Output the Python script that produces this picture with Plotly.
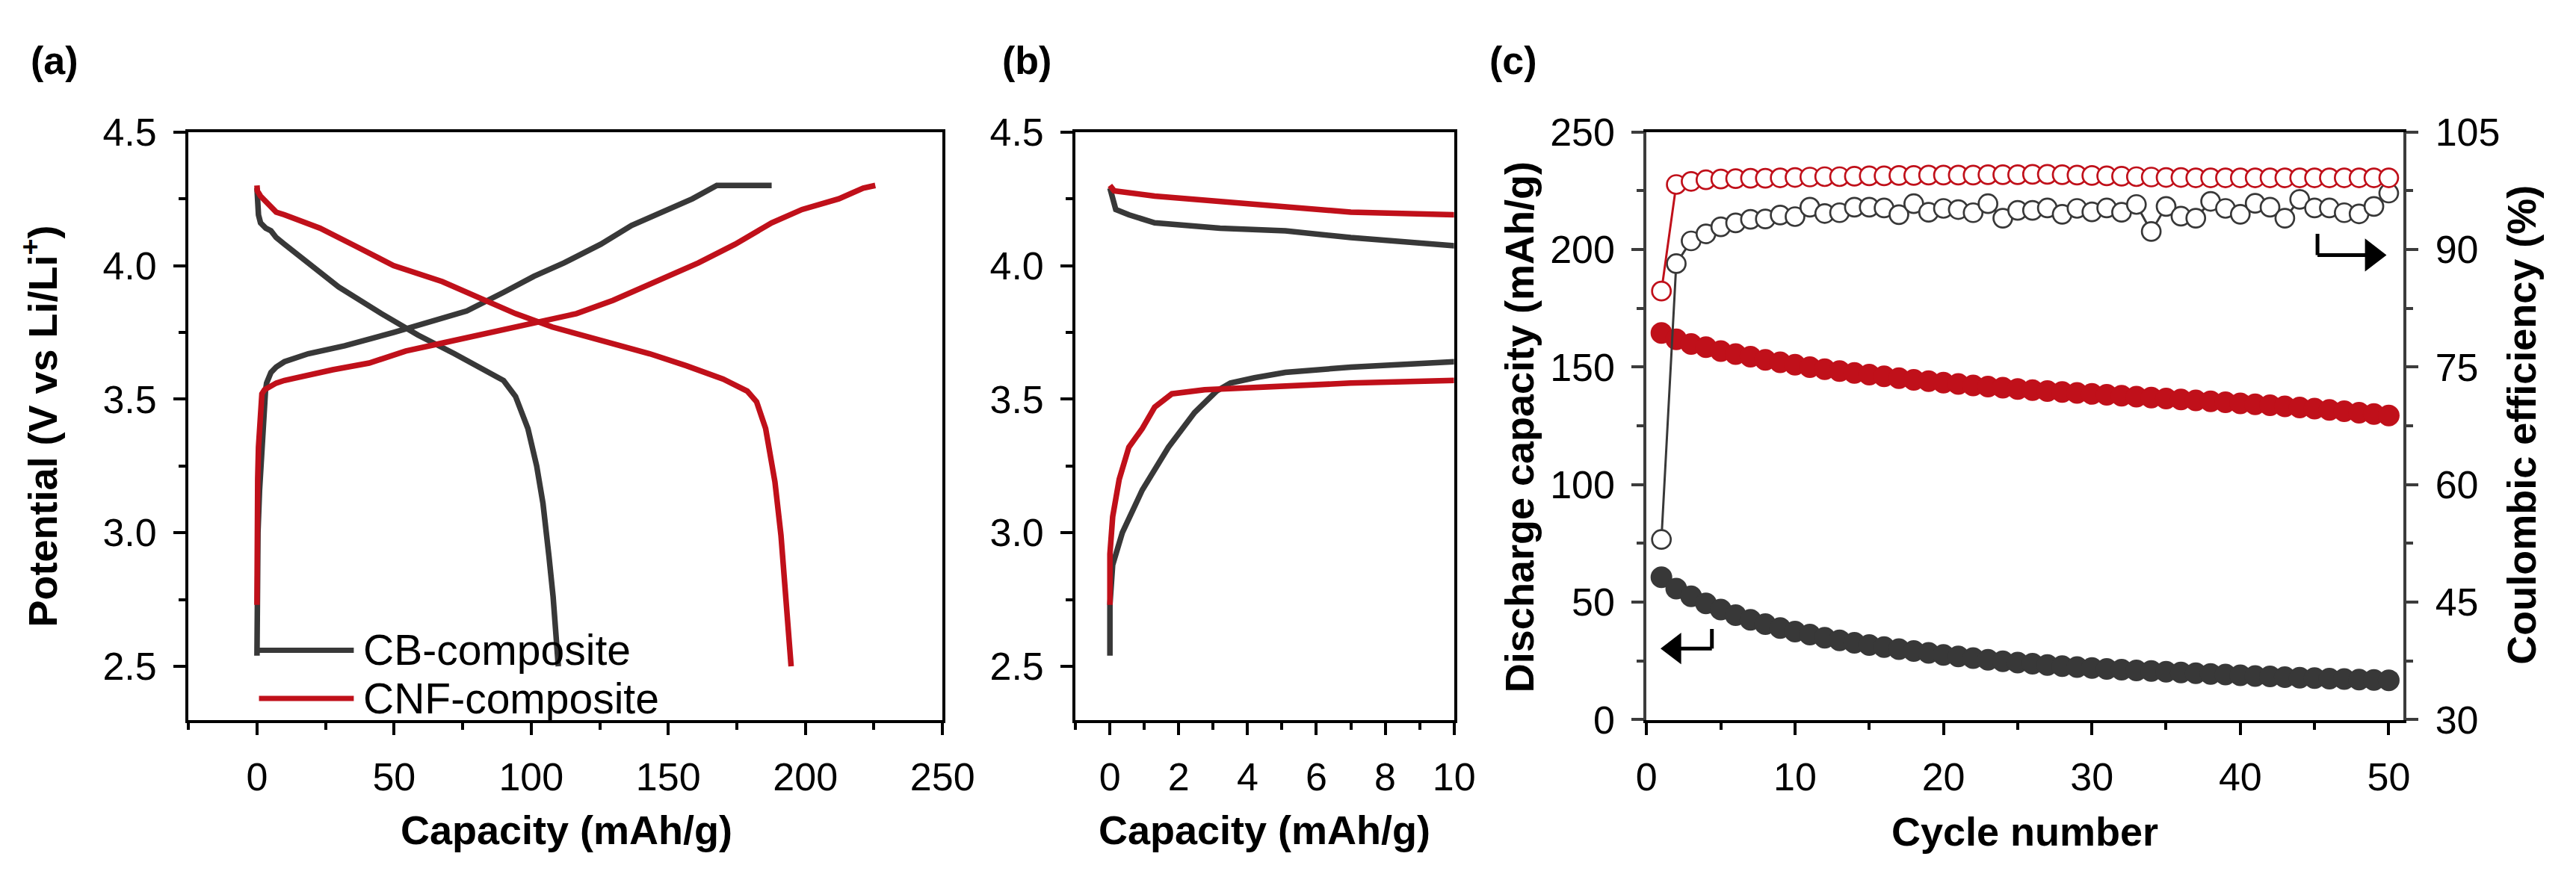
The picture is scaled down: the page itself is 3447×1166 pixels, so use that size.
import plotly.graph_objects as go

# ---------------- Data ----------------
# Panels (a) and (b): charge / discharge voltage profiles
cb_charge_cap = [0, 0, 0.08, 0.36, 0.94, 1.7, 2.46, 3.1, 3.5, 4.2, 5.1, 7.0, 10, 18.7, 32, 50, 67.6, 76.5,
                 90, 101, 112, 125.4, 136.6, 147.7, 158.8, 167.7, 187.7]
cb_charge_v = [2.54, 2.73, 2.88, 3.00, 3.16, 3.32, 3.45, 3.53, 3.56, 3.58, 3.60, 3.62, 3.64, 3.67, 3.70, 3.75,
               3.80, 3.83, 3.90, 3.96, 4.01, 4.08, 4.15, 4.20, 4.25, 4.30, 4.30]

cb_dis_cap = [0, 0.17, 0.55, 1.3, 3.2, 5.1, 7.0, 10, 18.7, 29.8, 45.4, 58.7, 72, 83.2, 89.9, 94.3, 98.8,
              102, 104.3, 106.5, 108, 109.9]
cb_dis_v = [4.29, 4.21, 4.19, 4.16, 4.14, 4.13, 4.105, 4.08, 4.01, 3.92, 3.82, 3.74, 3.67, 3.61, 3.57, 3.51,
            3.39, 3.25, 3.11, 2.91, 2.76, 2.50]

cnf_charge_cap = [0, 0, 0.08, 0.27, 0.55, 0.94, 1.3, 1.8, 2.75, 4.2, 7.0, 10, 14.2, 27.6, 40.9, 54.3, 67.6,
                  85.4, 101, 116.5, 129.9, 145.5, 161, 174.4, 187.7, 198.8, 212.2, 221.1, 225.5]
cnf_charge_v = [2.73, 2.92, 3.06, 3.20, 3.32, 3.39, 3.47, 3.52, 3.535, 3.545, 3.56, 3.57, 3.58, 3.61, 3.635,
                3.68, 3.71, 3.75, 3.78, 3.82, 3.87, 3.94, 4.01, 4.08, 4.16, 4.21, 4.25, 4.29, 4.30]

cnf_dis_cap = [0, 0.12, 1.3, 3.2, 5.1, 7.0, 10, 23, 36.5, 49.8, 67.6, 81, 94.3, 107.7, 125.4, 143.2, 156.6,
               170, 178.8, 182.2, 185.5, 188.9, 191.1, 192.6, 194.8]
cnf_dis_v = [4.30, 4.28, 4.26, 4.24, 4.22, 4.20, 4.19, 4.14, 4.07, 4.00, 3.94, 3.88, 3.82, 3.77, 3.72, 3.67,
             3.625, 3.575, 3.53, 3.49, 3.39, 3.19, 2.99, 2.80, 2.50]

# Panel (c): cycling
cycles = list(range(1, 51))
cb_discharge = [60.6, 55.8, 52.5, 49.5, 46.9, 44.5, 42.5, 40.7, 39.0, 37.5,
                36.2, 34.9, 33.8, 32.7, 31.8, 30.9, 30.0, 29.2, 28.4, 27.6,
                26.9, 26.2, 25.5, 24.9, 24.3, 23.8, 23.3, 22.8, 22.4, 22.0,
                21.6, 21.3, 21.0, 20.7, 20.4, 20.1, 19.8, 19.5, 19.2, 18.9,
                18.6, 18.4, 18.1, 17.9, 17.7, 17.5, 17.3, 17.1, 16.9, 16.8]
cnf_discharge = [164.5, 161.8, 159.8, 158.5, 156.8, 155.5, 154.4, 153.1, 152.0, 151.0,
                 150.0, 149.1, 148.3, 147.5, 146.8, 146.1, 145.3, 144.6, 144.0, 143.4,
                 142.8, 142.2, 141.7, 141.2, 140.7, 140.2, 139.8, 139.4, 139.0, 138.6,
                 138.2, 137.8, 137.4, 137.0, 136.6, 136.2, 135.8, 135.4, 135.0, 134.6,
                 134.2, 133.8, 133.3, 132.8, 132.3, 131.8, 131.2, 130.6, 130.0, 129.4]
cb_ce = [53.0, 88.2, 91.1, 92.0, 92.9, 93.4, 93.85, 93.9, 94.4, 94.2,
         95.4, 94.6, 94.7, 95.4, 95.4, 95.3, 94.45, 95.85, 94.75, 95.25,
         95.1, 94.7, 95.85, 94.0, 95.0, 95.0, 95.3, 94.5, 95.25, 94.8,
         95.3, 94.75, 95.75, 92.3, 95.5, 94.25, 94.0, 96.15, 95.25, 94.5,
         95.9, 95.4, 94.0, 96.4, 95.3, 95.3, 94.7, 94.55, 95.5, 97.2]
cnf_ce = [84.7, 98.3, 98.7, 98.9, 99.0, 99.05, 99.1, 99.1, 99.15, 99.2,
          99.25, 99.3, 99.3, 99.35, 99.4, 99.4, 99.45, 99.45, 99.5, 99.5,
          99.5, 99.5, 99.55, 99.55, 99.55, 99.6, 99.6, 99.55, 99.5, 99.45,
          99.4, 99.35, 99.3, 99.25, 99.2, 99.2, 99.15, 99.15, 99.15, 99.15,
          99.15, 99.15, 99.15, 99.15, 99.15, 99.15, 99.15, 99.15, 99.15, 99.15]

legend_names = ["CB-composite", "CNF-composite"]

# ---------------- Style ----------------
W, H = 3447, 1166
DARK = "#383838"
RED = "#c0101a"
AX = "#000000"
AXG = "#3c3c3c"
FONT = "Liberation Sans, Arial, sans-serif"
TICK = 52
TITLE = 54
LW = 7.5

fig = go.Figure()

def profile(x, y, color, xa, ya):
    fig.add_trace(go.Scatter(x=x, y=y, mode="lines", line=dict(color=color, width=LW),
                             xaxis=xa, yaxis=ya, showlegend=False, hoverinfo="skip"))

for xa, ya in [("x", "y"), ("x2", "y2")]:
    profile(cb_charge_cap, cb_charge_v, DARK, xa, ya)
    profile(cb_dis_cap, cb_dis_v, DARK, xa, ya)
    profile(cnf_charge_cap, cnf_charge_v, RED, xa, ya)
    profile(cnf_dis_cap, cnf_dis_v, RED, xa, ya)

# panel (c)
fig.add_trace(go.Scatter(x=cycles, y=cb_discharge, mode="lines+markers", xaxis="x3", yaxis="y3",
                         line=dict(color=DARK, width=2.5),
                         marker=dict(symbol="circle", size=29, color=DARK, line=dict(width=0)),
                         showlegend=False))
fig.add_trace(go.Scatter(x=cycles, y=cnf_discharge, mode="lines+markers", xaxis="x3", yaxis="y3",
                         line=dict(color=RED, width=2.5),
                         marker=dict(symbol="circle", size=29, color=RED, line=dict(width=0)),
                         showlegend=False))
fig.add_trace(go.Scatter(x=cycles, y=cb_ce, mode="lines+markers", xaxis="x3", yaxis="y4",
                         line=dict(color=DARK, width=3),
                         marker=dict(symbol="circle", size=25, color="white", line=dict(width=2.7, color=DARK)),
                         showlegend=False))
fig.add_trace(go.Scatter(x=cycles, y=cnf_ce, mode="lines+markers", xaxis="x3", yaxis="y4",
                         line=dict(color=RED, width=3),
                         marker=dict(symbol="circle", size=25, color="white", line=dict(width=2.7, color=RED)),
                         showlegend=False))

def px(X):
    return X / W

def py(Y):
    return 1 - Y / H

ydom = [py(975), py(147)]

def axis_common(color=AX, **kw):
    d = dict(showline=True, linewidth=4, linecolor=color, ticks="outside", ticklen=16, tickwidth=4,
             tickcolor=color, showgrid=False, zeroline=False,
             tickfont=dict(family=FONT, size=TICK, color="black"), ticklabelstandoff=12)
    d.update(kw)
    return d

def minor(dt, color=AX):
    return dict(ticks="outside", ticklen=9, tickwidth=4, tickcolor=color, dtick=dt, showgrid=False)

fig.update_layout(
    width=W, height=H,
    margin=dict(l=0, r=0, t=0, b=0),
    paper_bgcolor="white", plot_bgcolor="white",
    showlegend=False,
    font=dict(family=FONT, color="black"),
    xaxis=axis_common(domain=[px(234), px(1260)], range=[-25, 250], dtick=50, tick0=0, anchor="y",
                      mirror=True, minor=minor(25)),
    yaxis=axis_common(domain=ydom, range=[2.3, 4.5], dtick=0.5, tick0=2.5, tickformat=".1f", anchor="x",
                      mirror=True, minor=minor(0.25)),
    xaxis2=axis_common(domain=[px(1441), px(1956)], range=[-1, 10], dtick=2, tick0=0, anchor="y2",
                       mirror=True, minor=minor(1)),
    yaxis2=axis_common(domain=ydom, range=[2.3, 4.5], dtick=0.5, tick0=2.5, tickformat=".1f", anchor="x2",
                       mirror=True, minor=minor(0.25)),
    xaxis3=axis_common(domain=[px(2218), px(3248)], range=[0, 51], dtick=10, tick0=0, anchor="y3",
                       mirror=True, minor=minor(5)),
    yaxis3=axis_common(color=AXG, domain=ydom, range=[0, 250], dtick=50, tick0=0, anchor="x3",
                       minor=minor(25, AXG)),
    yaxis4=axis_common(color=AXG, domain=ydom, range=[30, 105], dtick=15, tick0=30, anchor="x3",
                       overlaying="y3", side="right", minor=minor(7.5, AXG)),
)

# Legend of panel (a), drawn by hand
legend_rows = [(877, DARK), (945, RED)]
shapes = []
annotations = []
for (Y, col), name in zip(legend_rows, legend_names):
    shapes.append(dict(type="line", xref="paper", yref="paper", x0=px(330), x1=px(459), y0=py(Y), y1=py(Y),
                       line=dict(color=col, width=7)))
    annotations.append(dict(xref="paper", yref="paper", x=px(470), y=py(Y), text=name, showarrow=False,
                            xanchor="left", yanchor="middle", font=dict(family=FONT, size=57, color="black")))

# Arrows in panel (c)
ARW = dict(color="black", width=5)
shapes += [
    dict(type="line", xref="x3", yref="y3", x0=4.4, x1=4.4, y0=38.6, y1=30.3, line=ARW),
    dict(type="line", xref="x3", yref="y3", x0=4.4, x1=2.2, y0=30.3, y1=30.3, line=ARW),
    dict(type="path", xref="x3", yref="y3", path="M 0.94,30.3 L 2.33,37.0 L 2.33,23.6 Z",
         fillcolor="black", line=dict(width=0)),
    dict(type="line", xref="x3", yref="y4", x0=45.2, x1=45.2, y0=92.0, y1=89.3, line=ARW),
    dict(type="line", xref="x3", yref="y4", x0=45.2, x1=48.5, y0=89.3, y1=89.3, line=ARW),
    dict(type="path", xref="x3", yref="y4", path="M 49.85,89.3 L 48.4,91.4 L 48.4,87.2 Z",
         fillcolor="black", line=dict(width=0)),
]

# Axis titles and panel labels
def label(x, y, text, size=TITLE, angle=0):
    annotations.append(dict(xref="paper", yref="paper", x=px(x), y=py(y), text=f"<b>{text}</b>",
                            showarrow=False, textangle=angle, xanchor="center", yanchor="middle",
                            font=dict(family=FONT, size=size, color="black")))

label(32, 561, "Potential (V vs Li/Li<sup>+</sup>)", angle=-90)
label(748, 1130, "Capacity (mAh/g)")
label(1698, 1130, "Capacity (mAh/g)")
label(2733, 1132, "Cycle number")
label(2045, 563, "Discharge capacity (mAh/g)", angle=-90)
label(3408, 560, "Coulombic efficiency (%)", angle=-90)
label(52, 46, "(a)", size=52)
label(1375, 46, "(b)", size=52)
label(2037, 46, "(c)", size=52)

fig.update_layout(shapes=shapes, annotations=annotations)

fig.write_html("out.html", config={"displayModeBar": False})
